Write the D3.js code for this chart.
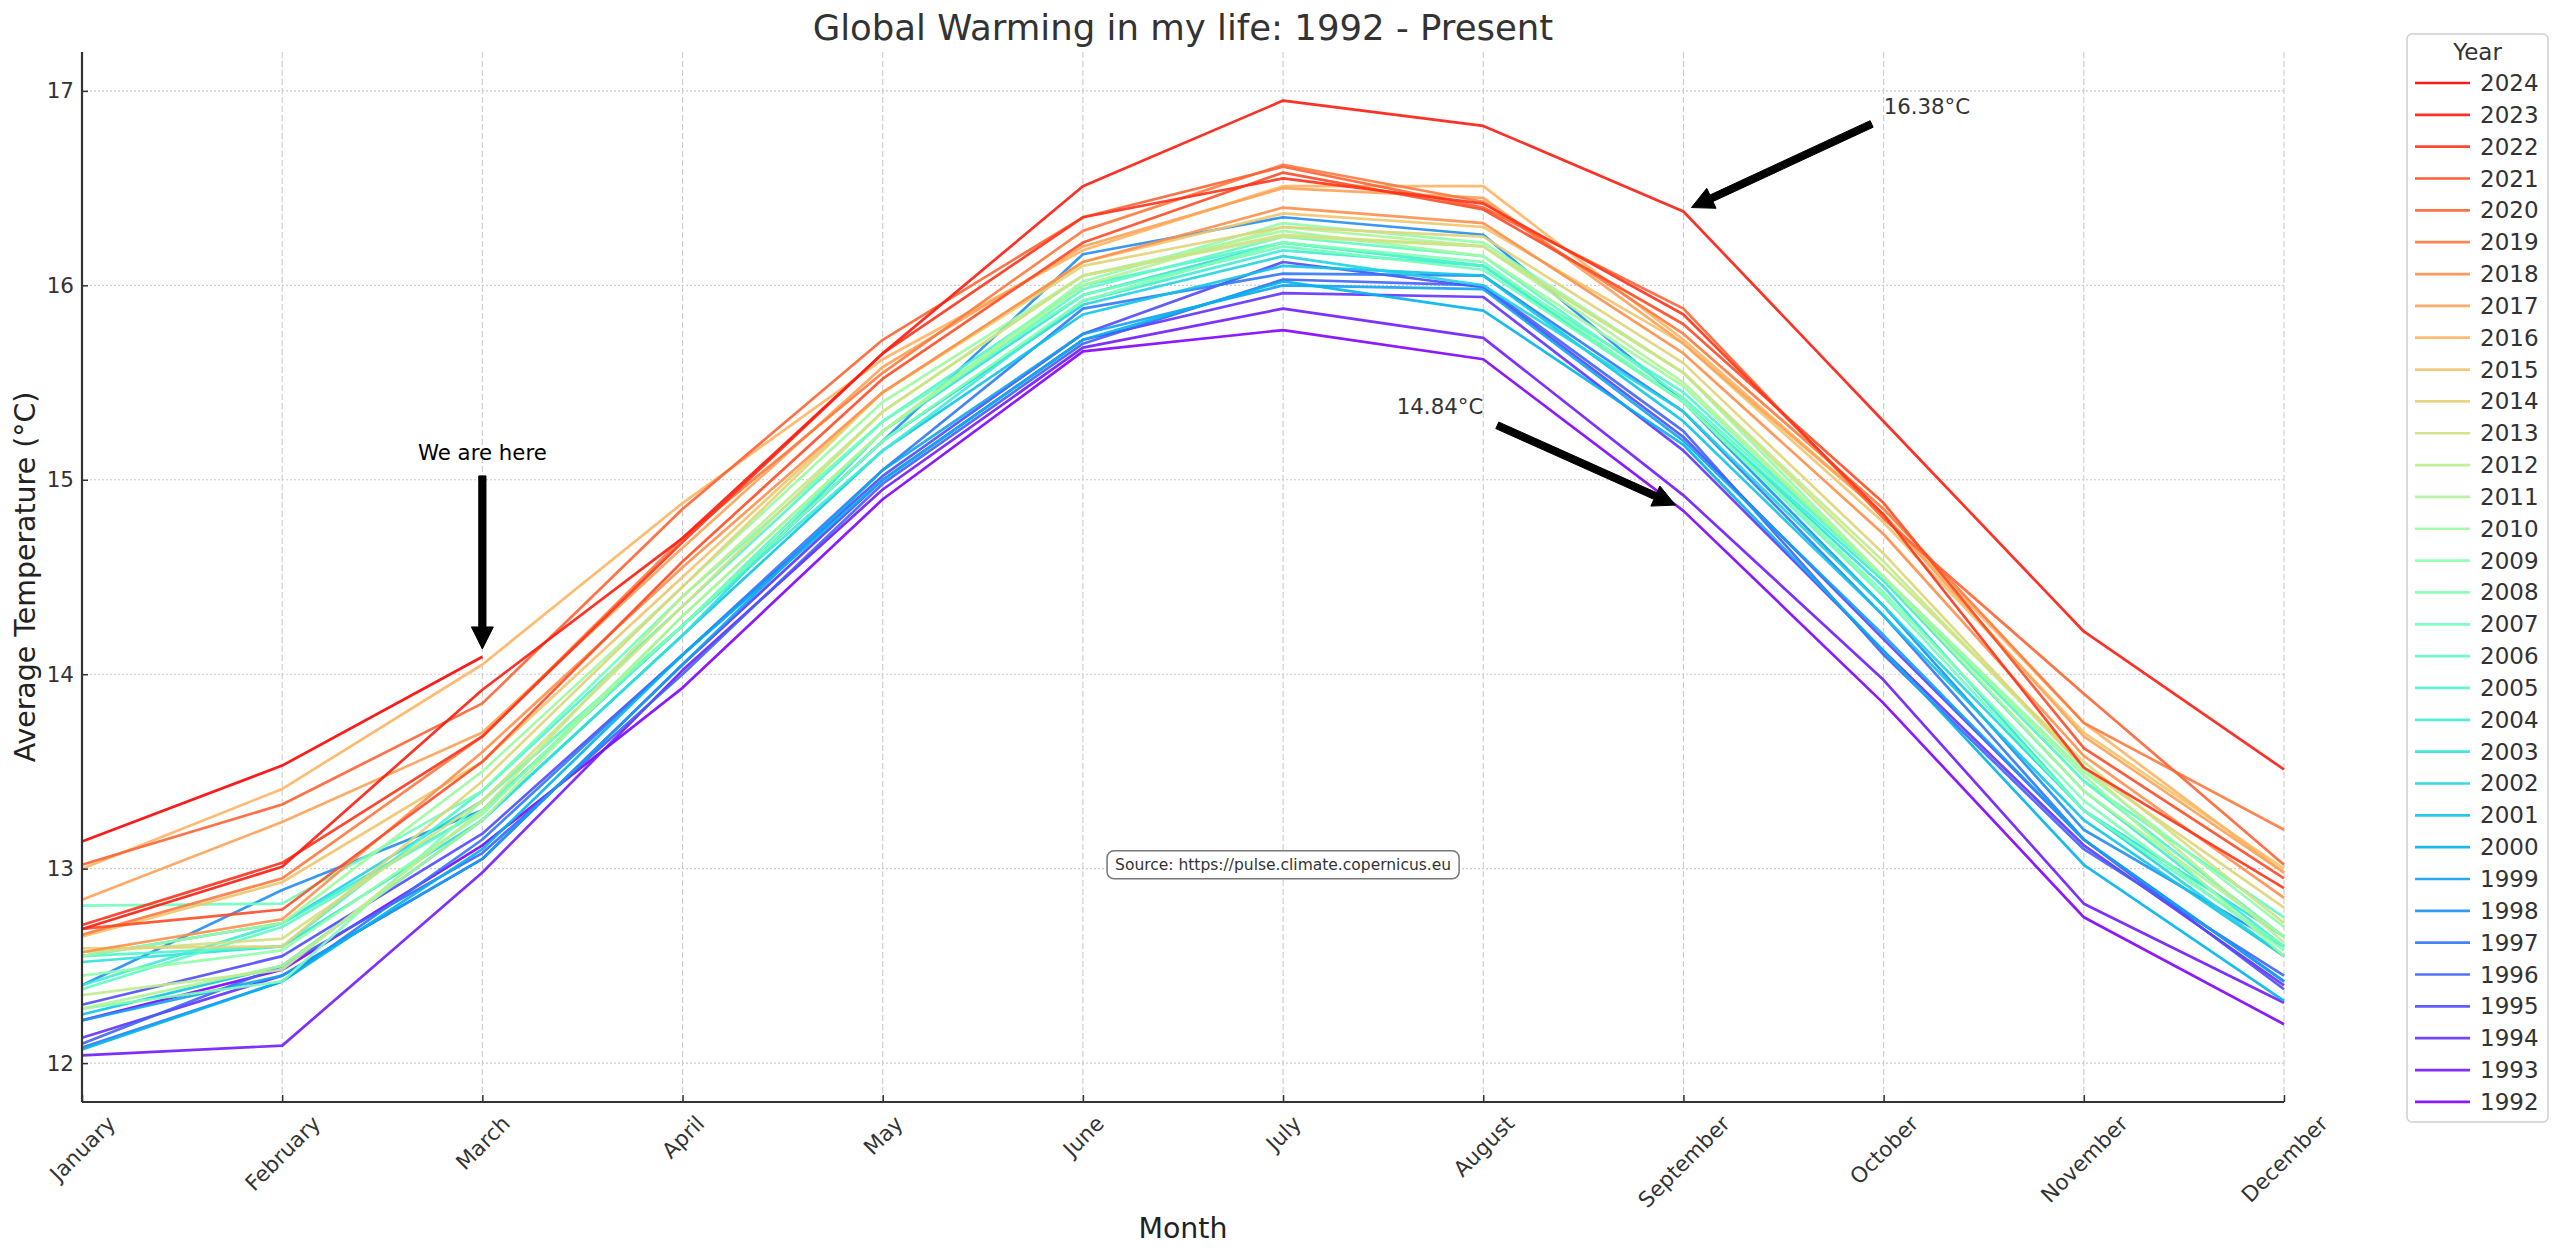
<!DOCTYPE html>
<html>
<head>
<meta charset="utf-8">
<script src="https://cdn.jsdelivr.net/npm/d3@7"></script>
<style>
  body { margin: 0; background: #fff; }
  svg { display: block; font-family: "DejaVu Sans", sans-serif; }
</style>
</head>
<body>
<svg id="chart" width="2560" height="1256"></svg>
<script>
// ---------------- DATA ----------------
const months = ["January","February","March","April","May","June","July","August","September","October","November","December"];
const years = [1992,1993,1994,1995,1996,1997,1998,1999,2000,2001,2002,2003,2004,2005,2006,2007,2008,2009,2010,2011,2012,2013,2014,2015,2016,2017,2018,2019,2020,2021,2022,2023,2024];

const t1992 = [12.22, 12.48, 13.12, 13.93, 14.90, 15.66, 15.77, 15.62, 14.84, 13.85, 12.75, 12.20];
const t1993 = [12.04, 12.09, 12.98, 14.02, 14.95, 15.68, 15.88, 15.73, 14.92, 13.97, 12.82, 12.31];
const t1994 = [12.13, 12.45, 13.05, 14.05, 15.00, 15.72, 15.96, 15.94, 15.15, 14.12, 13.12, 12.40];
const t1995 = [12.30, 12.55, 13.18, 14.10, 15.02, 15.75, 16.12, 15.99, 15.22, 14.18, 13.15, 12.38];
const t1996 = [12.10, 12.50, 13.08, 14.00, 14.98, 15.70, 16.03, 16.00, 15.25, 14.10, 13.10, 12.45];
const t1997 = [12.08, 12.42, 13.15, 14.10, 15.05, 15.88, 16.06, 16.05, 15.35, 14.30, 13.15, 12.42];
const t1998 = [12.40, 12.89, 13.30, 14.25, 15.20, 16.16, 16.35, 16.26, 15.40, 14.35, 13.20, 12.60];
const t1999 = [12.22, 12.45, 13.05, 14.05, 15.05, 15.75, 16.00, 15.98, 15.20, 14.20, 13.15, 12.42];
const t2000 = [12.07, 12.42, 13.10, 14.10, 15.00, 15.72, 16.02, 15.87, 15.18, 14.12, 13.02, 12.32];
const t2001 = [12.25, 12.50, 13.25, 14.20, 15.15, 15.85, 16.10, 16.05, 15.30, 14.30, 13.25, 12.55];
const t2002 = [12.55, 12.72, 13.35, 14.25, 15.20, 15.90, 16.15, 16.00, 15.35, 14.35, 13.30, 12.55];
const t2003 = [12.52, 12.60, 13.25, 14.20, 15.25, 15.95, 16.22, 16.10, 15.40, 14.45, 13.30, 12.65];
const t2004 = [12.40, 12.72, 13.30, 14.25, 15.15, 15.92, 16.18, 16.10, 15.40, 14.48, 13.40, 12.60];
const t2005 = [12.55, 12.60, 13.40, 14.35, 15.30, 16.00, 16.22, 16.10, 15.45, 14.50, 13.45, 12.65];
const t2006 = [12.38, 12.70, 13.30, 14.25, 15.25, 15.98, 16.25, 16.15, 15.42, 14.50, 13.45, 12.75];
const t2007 = [12.81, 12.82, 13.40, 14.40, 15.30, 15.95, 16.20, 16.08, 15.40, 14.40, 13.30, 12.60];
const t2008 = [12.28, 12.42, 13.35, 14.25, 15.20, 15.92, 16.22, 16.12, 15.40, 14.42, 13.35, 12.58];
const t2009 = [12.45, 12.58, 13.28, 14.30, 15.25, 16.02, 16.32, 16.22, 15.55, 14.50, 13.50, 12.70];
const t2010 = [12.55, 12.72, 13.50, 14.45, 15.40, 16.05, 16.28, 16.15, 15.48, 14.50, 13.48, 12.55];
const t2011 = [12.28, 12.50, 13.25, 14.30, 15.25, 16.00, 16.30, 16.20, 15.50, 14.50, 13.40, 12.65];
const t2012 = [12.35, 12.48, 13.30, 14.40, 15.35, 16.05, 16.25, 16.20, 15.55, 14.58, 13.52, 12.62];
const t2013 = [12.57, 12.64, 13.35, 14.35, 15.35, 16.05, 16.26, 16.20, 15.55, 14.55, 13.55, 12.72];
const t2014 = [12.59, 12.60, 13.45, 14.45, 15.45, 16.10, 16.30, 16.25, 15.60, 14.62, 13.52, 12.80];
const t2015 = [12.65, 12.93, 13.55, 14.50, 15.45, 16.12, 16.37, 16.30, 15.70, 14.78, 13.70, 13.00];
const t2016 = [13.00, 13.41, 14.05, 14.88, 15.62, 16.18, 16.51, 16.51, 15.72, 14.82, 13.75, 12.98];
const t2017 = [12.84, 13.24, 13.70, 14.65, 15.58, 16.20, 16.50, 16.45, 15.70, 14.82, 13.68, 12.98];
const t2018 = [12.57, 12.74, 13.60, 14.55, 15.45, 16.12, 16.40, 16.32, 15.65, 14.72, 13.58, 12.85];
const t2019 = [12.66, 12.95, 13.68, 14.70, 15.55, 16.28, 16.62, 16.43, 15.75, 14.85, 13.75, 13.20];
const t2020 = [13.02, 13.33, 13.85, 14.85, 15.72, 16.35, 16.61, 16.40, 15.88, 14.80, 13.90, 13.02];
const t2021 = [12.69, 12.79, 13.55, 14.58, 15.52, 16.22, 16.58, 16.39, 15.80, 14.88, 13.62, 12.95];
const t2022 = [12.71, 13.03, 13.68, 14.68, 15.65, 16.35, 16.55, 16.42, 15.85, 14.82, 13.52, 12.90];
const t2023 = [12.69, 13.01, 13.92, 14.70, 15.65, 16.51, 16.95, 16.82, 16.38, 15.30, 14.22, 13.51];
const t2024 = [13.14, 13.53, 14.09];

const temps = [t1992,t1993,t1994,t1995,t1996,t1997,t1998,t1999,t2000,t2001,t2002,t2003,t2004,t2005,t2006,t2007,t2008,t2009,t2010,t2011,t2012,t2013,t2014,t2015,t2016,t2017,t2018,t2019,t2020,t2021,t2022,t2023,t2024];

const yTicks = [12, 13, 14, 15, 16, 17];

// annotations: [month index, temperature]
const annotationLabels = ["We are here", "16.38°C", "14.84°C"];
const annotationTextAt = [[2, 15.10], [9, 16.88], [7, 15.34]];
const annotationAnchor = ["middle", "start", "end"];
const annotationTail = [[2, 15.02], [8.94, 16.83], [7.07, 15.28]];
const annotationHead = [[2, 14.13], [8.04, 16.40], [7.96, 14.87]];

const sourceLabel = "Source: https://pulse.climate.copernicus.eu";
const sourceAt = [6, 13.02];

const titleText = "Global Warming in my life: 1992 - Present";
const xLabel = "Month";
const yLabel = "Average Temperature (°C)";
const legendTitle = "Year";

// ---------------- CHART ----------------
const svg = d3.select("#chart");
const L = 82, R = 2284, T = 52, B = 1102;

const x = d3.scaleLinear().domain([0, 11]).range([L, R]);
const y = d3.scaleLinear().domain([11.80, 17.20]).range([B, T]);

function rainbow(t) {
  const r = Math.max(0, Math.min(1, Math.abs(2 * t - 0.5)));
  const g = Math.max(0, Math.min(1, Math.sin(Math.PI * t)));
  const b = Math.max(0, Math.min(1, Math.cos(Math.PI * t / 2)));
  return d3.rgb(r * 255, g * 255, b * 255).formatHex();
}
const color = yr => rainbow((yr - years[0]) / (years[years.length - 1] - years[0]));

// grid
const grid = svg.append("g");
grid.selectAll("line.vg").data(d3.range(12)).join("line")
  .attr("x1", d => x(d)).attr("x2", d => x(d))
  .attr("y1", T).attr("y2", B)
  .attr("stroke", "#cccccc").attr("stroke-width", 1.1)
  .attr("stroke-dasharray", "6,3");
grid.selectAll("line.hg").data(yTicks).join("line")
  .attr("x1", L).attr("x2", R)
  .attr("y1", d => y(d)).attr("y2", d => y(d))
  .attr("stroke", "#cccccc").attr("stroke-width", 1.1)
  .attr("stroke-dasharray", "2,2");

// lines
const line = d3.line().x((d, i) => x(i)).y(d => y(d));
svg.append("g").selectAll("path").data(years.map((yr, i) => ({ yr, v: temps[i] })))
  .join("path")
  .attr("d", d => line(d.v))
  .attr("fill", "none")
  .attr("stroke", d => color(d.yr))
  .attr("stroke-width", 2.7)
  .attr("stroke-linejoin", "round")
  .attr("stroke-opacity", 0.9);

// axes
const yAxis = d3.axisLeft(y).tickValues(yTicks).tickFormat(d3.format("d"))
  .tickSizeInner(-6).tickSizeOuter(0).tickPadding(8);
const gy = svg.append("g").attr("transform", `translate(${L},0)`).call(yAxis);
gy.select(".domain").attr("stroke", "#333").attr("stroke-width", 2.2).attr("d", `M0,${T}V${B}`);
gy.selectAll(".tick line").attr("stroke", "#333").attr("stroke-width", 1.5);
gy.selectAll(".tick text").attr("font-size", 21.5).attr("fill", "#333").attr("font-family", "DejaVu Sans");

const xAxis = d3.axisBottom(x).tickValues(d3.range(12)).tickSizeInner(-7).tickSizeOuter(0).tickFormat(i => months[i]);
const gx = svg.append("g").attr("transform", `translate(0,${B})`).call(xAxis);
gx.select(".domain").attr("stroke", "#333").attr("stroke-width", 2.2).attr("d", `M${L},0H${R}`);
gx.selectAll(".tick line").attr("stroke", "#333").attr("stroke-width", 1.5);
const fsTick = 21.5;
gx.selectAll(".tick text")
  .attr("font-size", fsTick).attr("fill", "#333").attr("font-family", "DejaVu Sans")
  .attr("dy", null)
  .attr("text-anchor", "middle")
  .attr("dominant-baseline", "central")
  .each(function () {
    const w = this.getComputedTextLength();
    const h = fsTick * 1.0;
    const off = 10 + (w + h) / (2 * Math.SQRT2);
    d3.select(this).attr("y", null).attr("transform", `translate(0,${off}) rotate(-45)`);
  });

// title & labels
svg.append("text").attr("x", (L + R) / 2).attr("y", 40).attr("text-anchor", "middle")
  .attr("font-size", 35.5).attr("fill", "#333").text(titleText);
svg.append("text").attr("x", (L + R) / 2).attr("y", 1238).attr("text-anchor", "middle")
  .attr("font-size", 28.4).attr("fill", "#222").text(xLabel);
svg.append("text").attr("transform", `translate(35,${(T + B) / 2}) rotate(-90)`).attr("text-anchor", "middle")
  .attr("font-size", 28.4).attr("fill", "#222").text(yLabel);

// annotations
const ann = svg.append("g");
annotationLabels.forEach((lab, i) => {
  ann.append("text")
    .attr("x", x(annotationTextAt[i][0])).attr("y", y(annotationTextAt[i][1]))
    .attr("text-anchor", annotationAnchor[i])
    .attr("font-size", 21.3).attr("fill", i === 0 ? "#000" : "#333").text(lab);
  const x0 = x(annotationTail[i][0]), y0 = y(annotationTail[i][1]);
  const x1 = x(annotationHead[i][0]), y1 = y(annotationHead[i][1]);
  const len = Math.hypot(x1 - x0, y1 - y0);
  const ux = (x1 - x0) / len, uy = (y1 - y0) / len;
  const nx = -uy, ny = ux;
  const sw = 3.6, hw = 11, hl = 22;
  const bx = x1 - ux * hl, by = y1 - uy * hl;
  const pts = [
    [x0 + nx * sw, y0 + ny * sw],
    [bx + nx * sw, by + ny * sw],
    [bx + nx * hw, by + ny * hw],
    [x1, y1],
    [bx - nx * hw, by - ny * hw],
    [bx - nx * sw, by - ny * sw],
    [x0 - nx * sw, y0 - ny * sw]
  ];
  ann.append("path").attr("d", "M" + pts.map(p => p.join(",")).join("L") + "Z")
    .attr("fill", "#000").attr("stroke", "#000").attr("stroke-width", 1);
});

// source box
const src = svg.append("g");
const st = src.append("text").attr("x", x(sourceAt[0])).attr("y", y(sourceAt[1]))
  .attr("text-anchor", "middle").attr("dominant-baseline", "central")
  .attr("font-size", 15.5).attr("fill", "#333").text(sourceLabel);
const sb = st.node().getBBox();
src.insert("rect", "text")
  .attr("x", sb.x - 8).attr("y", sb.y - 5).attr("width", sb.width + 16).attr("height", sb.height + 10)
  .attr("rx", 7).attr("fill", "#fff").attr("stroke", "#777").attr("stroke-width", 1.5);

// legend
const lg = svg.append("g");
const lgX = 2407, lgTop = 34, lgW = 141, lgH = 1088, rowY0 = 83, rowStep = 31.84;
lg.append("rect").attr("x", lgX).attr("y", lgTop).attr("width", lgW).attr("height", lgH)
  .attr("rx", 5).attr("fill", "#fff").attr("fill-opacity", 0.85)
  .attr("stroke", "#d0d0d0").attr("stroke-width", 1.5);
lg.append("text").attr("x", lgX + lgW / 2).attr("y", 60).attr("text-anchor", "middle")
  .attr("font-size", 23).attr("fill", "#333").text(legendTitle);
const legendYears = years.slice().reverse();
const rows = lg.selectAll("g.row").data(legendYears).join("g")
  .attr("transform", (d, i) => `translate(0,${rowY0 + i * rowStep})`);
rows.append("line").attr("x1", 2415).attr("x2", 2470).attr("y1", 0).attr("y2", 0)
  .attr("stroke", d => color(d)).attr("stroke-width", 2.7).attr("stroke-opacity", 0.9);
rows.append("text").attr("x", 2480).attr("y", 0).attr("dominant-baseline", "central")
  .attr("font-size", 23).attr("fill", "#333").text(d => d);
</script>
</body>
</html>
